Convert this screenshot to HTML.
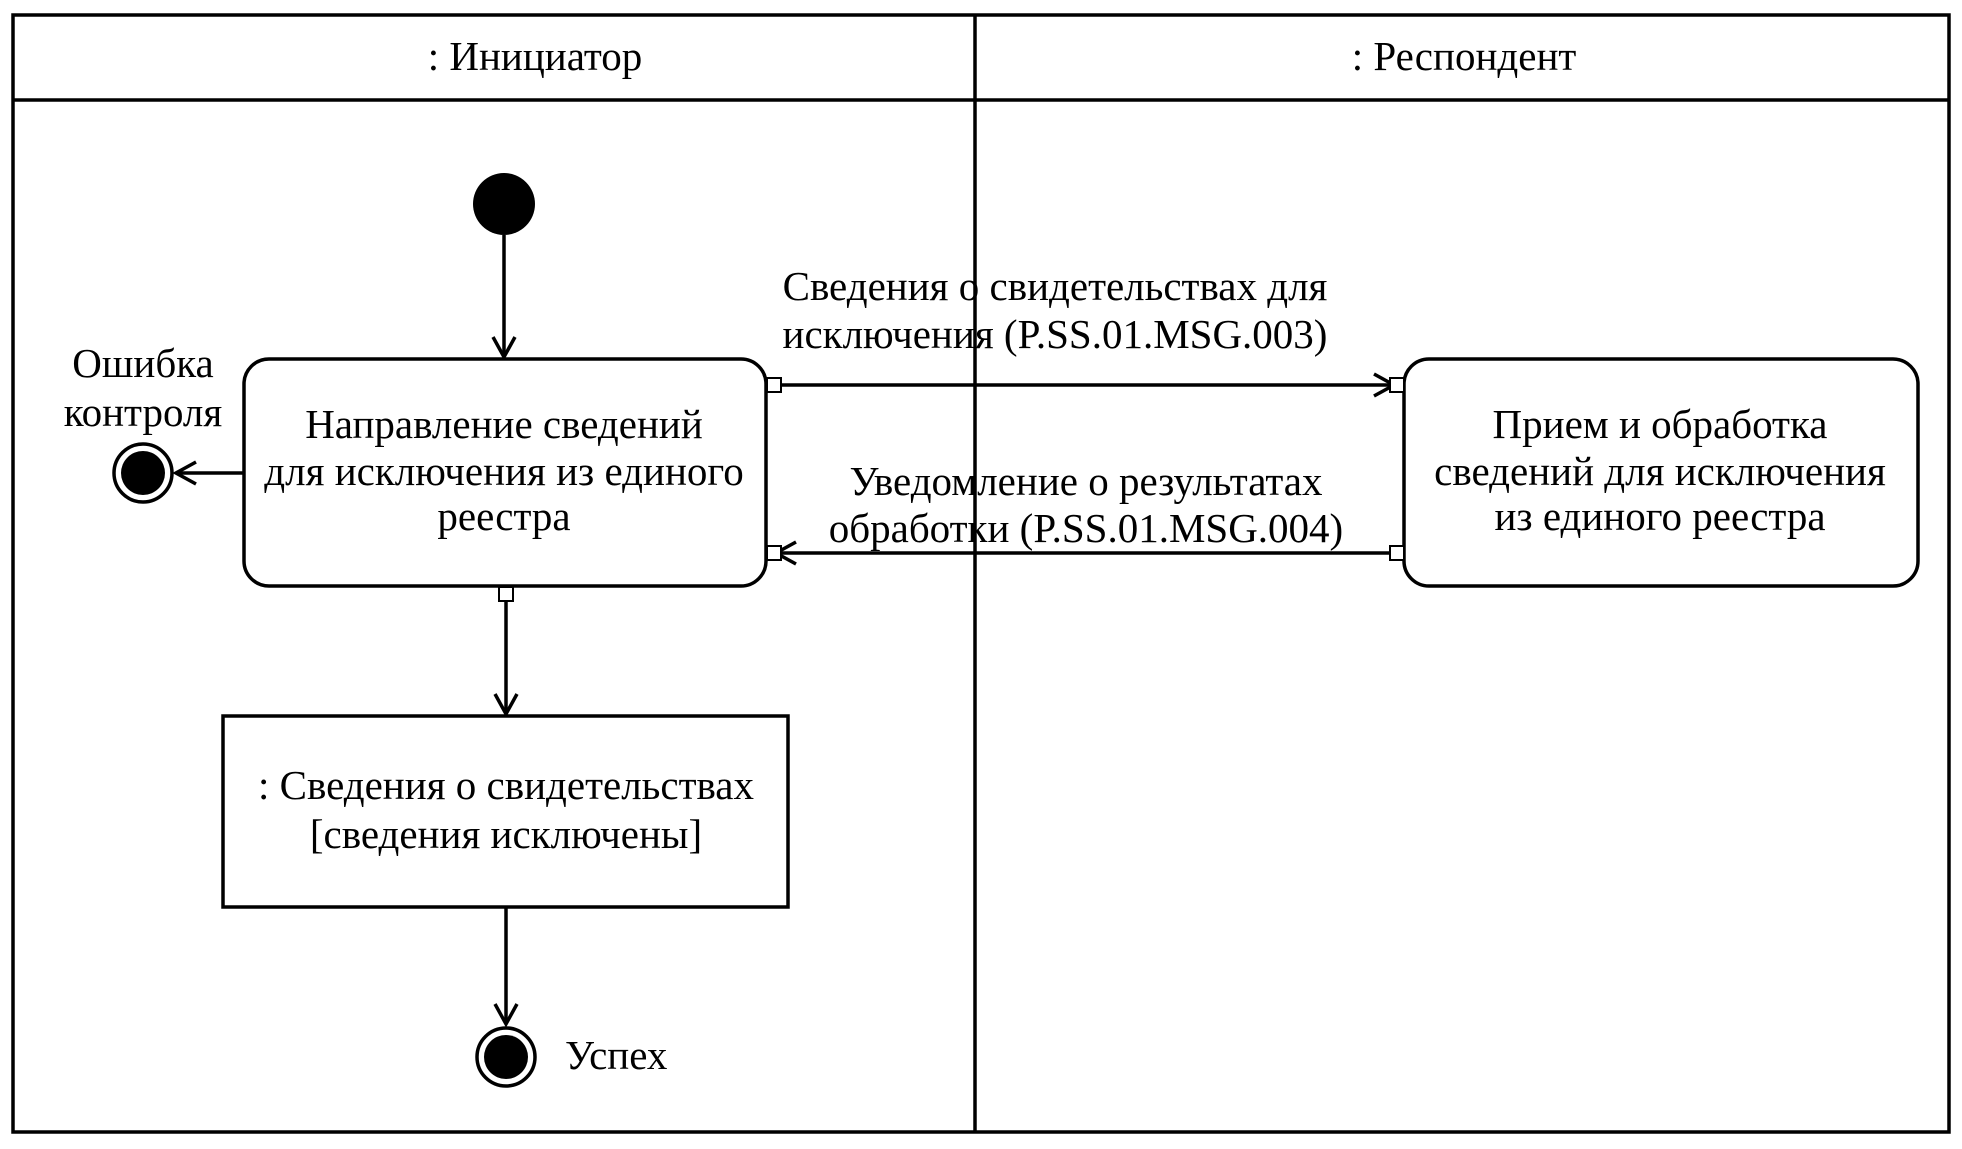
<!DOCTYPE html>
<html><head><meta charset="utf-8"><style>
html,body{margin:0;padding:0;background:#fff}
svg text{font-family:"Liberation Serif",serif;font-size:41px;fill:#000}
</style></head><body>
<svg width="1962" height="1144" viewBox="0 0 1962 1144" xmlns="http://www.w3.org/2000/svg">
<defs>
<marker id="a" markerWidth="26" markerHeight="26" refX="23" refY="13" orient="auto" markerUnits="userSpaceOnUse">
<path d="M3,2 L23,13 L3,24" fill="none" stroke="#000" stroke-width="3.5"/>
</marker>
</defs>
<g stroke="#000" stroke-width="3.5" fill="none">
<rect x="13" y="15" width="1936" height="1117"/>
<line x1="13" y1="100" x2="1949" y2="100"/>
<line x1="975" y1="15" x2="975" y2="1132"/>
<rect x="244" y="359" width="522" height="227" rx="25"/>
<rect x="1404" y="359" width="514" height="227" rx="25"/>
<rect x="223" y="716" width="565" height="191"/>
<line x1="504" y1="235" x2="504" y2="357" marker-end="url(#a)"/>
<line x1="244" y1="473" x2="176" y2="473" marker-end="url(#a)"/>
<line x1="774" y1="385" x2="1394" y2="385" marker-end="url(#a)"/>
<line x1="1396" y1="553" x2="776" y2="553" marker-end="url(#a)"/>
<line x1="506" y1="596" x2="506" y2="714" marker-end="url(#a)"/>
<line x1="506" y1="907" x2="506" y2="1024" marker-end="url(#a)"/>
<circle cx="143" cy="473" r="29"/>
<circle cx="506" cy="1057" r="29"/>
</g>
<g fill="#fff" stroke="#000" stroke-width="2">
<rect x="767" y="378" width="14" height="14"/>
<rect x="1390" y="378" width="14" height="14"/>
<rect x="767" y="546" width="14" height="14"/>
<rect x="1390" y="546" width="14" height="14"/>
<rect x="499" y="587" width="14" height="14"/>
</g>
<circle cx="504" cy="204" r="31" fill="#000"/>
<circle cx="143" cy="473" r="22" fill="#000"/>
<circle cx="506" cy="1057" r="22" fill="#000"/>
<g text-anchor="middle">
<text x="535" y="70">: Инициатор</text>
<text x="1464" y="70">: Респондент</text>
<text x="1055" y="300">Сведения о свидетельствах для</text>
<text x="1055" y="348">исключения (P.SS.01.MSG.003)</text>
<text x="1086" y="495">Уведомление о результатах</text>
<text x="1086" y="542">обработки (P.SS.01.MSG.004)</text>
<text x="504" y="438">Направление сведений</text>
<text x="504" y="485">для исключения из единого</text>
<text x="504" y="530">реестра</text>
<text x="1660" y="438">Прием и обработка</text>
<text x="1660" y="485">сведений для исключения</text>
<text x="1660" y="530">из единого реестра</text>
<text x="143" y="377">Ошибка</text>
<text x="143" y="426">контроля</text>
<text x="506" y="799">: Сведения о свидетельствах</text>
<text x="506" y="848">[сведения исключены]</text>
</g>
<text x="565" y="1069">Успех</text>
</svg>
</body></html>
